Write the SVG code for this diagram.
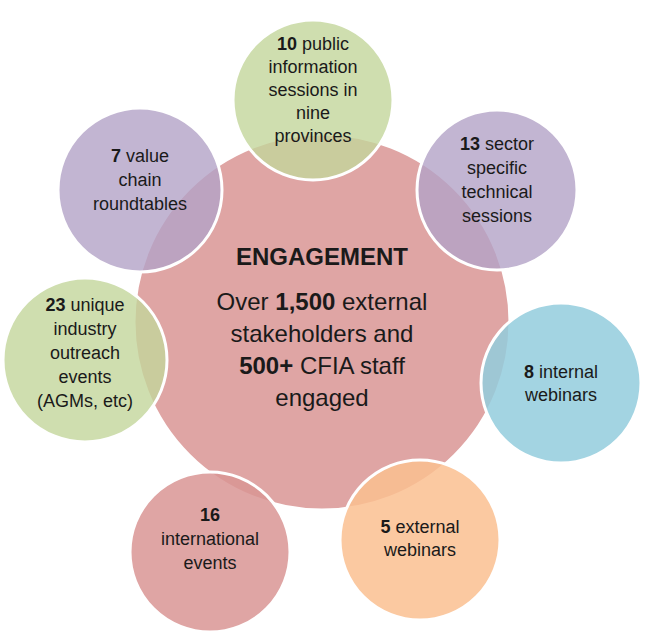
<svg xmlns="http://www.w3.org/2000/svg" width="645" height="634" viewBox="0 0 645 634">
<style>
.c{stroke:#fff;stroke-width:3}
text{font-family:"Liberation Sans","DejaVu Sans",sans-serif;fill:#1a1a1a;text-anchor:middle}
.s{font-size:18px}
.m{font-size:24px}
.b{font-weight:bold}
</style>
<rect width="645" height="634" fill="#fff"/>
<g id="center"><circle class="c" cx="322" cy="322" r="188" fill="#d99594" fill-opacity="0.85"/>
<text class="m b" x="322" y="265" font-size="27">ENGAGEMENT</text>
<text class="m" x="322" y="310">Over <tspan class="b">1,500</tspan> external</text>
<text class="m" x="322" y="342">stakeholders and</text>
<text class="m" x="322" y="374"><tspan class="b">500+</tspan> CFIA staff</text>
<text class="m" x="322" y="406">engaged</text></g>
<g id="n1"><circle class="c" cx="313" cy="100" r="80" fill="#c3d69b" fill-opacity="0.8"/>
<text class="s" x="313" y="50"><tspan class="b">10</tspan> public</text>
<text class="s" x="313" y="73">information</text>
<text class="s" x="313" y="96">sessions  in</text>
<text class="s" x="313" y="119">nine</text>
<text class="s" x="313" y="142">provinces</text></g>
<g id="n2"><circle class="c" cx="497" cy="190" r="80" fill="#b3a2c7" fill-opacity="0.8"/>
<text class="s" x="497" y="150"><tspan class="b">13</tspan> sector</text>
<text class="s" x="497" y="174">specific</text>
<text class="s" x="497" y="198">technical</text>
<text class="s" x="497" y="222">sessions</text></g>
<g id="n3"><circle class="c" cx="561" cy="383" r="80" fill="#93cddd" fill-opacity="0.85"/>
<text class="s" x="561" y="378"><tspan class="b">8</tspan> internal</text>
<text class="s" x="561" y="401">webinars</text></g>
<g id="n4"><circle class="c" cx="420" cy="540" r="80" fill="#fac090" fill-opacity="0.85"/>
<text class="s" x="420" y="533"><tspan class="b">5</tspan> external</text>
<text class="s" x="420" y="556">webinars</text></g>
<g id="n5"><circle class="c" cx="210" cy="552" r="80" fill="#d99594" fill-opacity="0.85"/>
<text class="s b" x="210" y="521">16</text>
<text class="s" x="210" y="545">international</text>
<text class="s" x="210" y="569">events</text></g>
<g id="n6"><circle class="c" cx="85" cy="360" r="82" fill="#c3d69b" fill-opacity="0.8"/>
<text class="s" x="85" y="311"><tspan class="b">23</tspan> unique</text>
<text class="s" x="85" y="335">industry</text>
<text class="s" x="85" y="359">outreach</text>
<text class="s" x="85" y="383">events</text>
<text class="s" x="85" y="407">(AGMs, etc)</text></g>
<g id="n7"><circle class="c" cx="140" cy="190" r="82" fill="#b3a2c7" fill-opacity="0.8"/>
<text class="s" x="140" y="162"><tspan class="b">7</tspan> value</text>
<text class="s" x="140" y="186">chain</text>
<text class="s" x="140" y="210">roundtables</text></g>
<g id="connectors"/>
</svg>
